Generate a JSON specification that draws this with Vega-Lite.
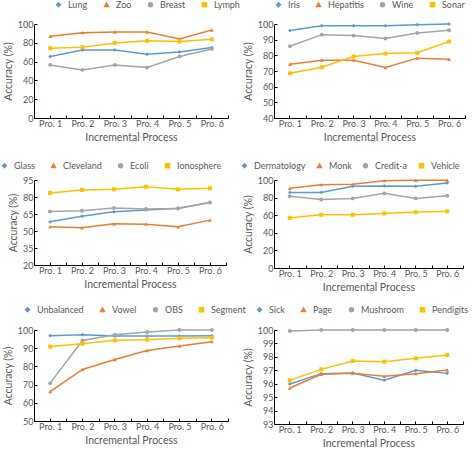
{
  "$schema": "https://vega.github.io/schema/vega-lite/v6.json",
  "padding": 0,
  "background": "white",
  "data": {
    "values": [
      {"p": 1, "s": "Lung", "x": "Pro. 1", "y": 65.4},
      {"p": 1, "s": "Lung", "x": "Pro. 2", "y": 72.4},
      {"p": 1, "s": "Lung", "x": "Pro. 3", "y": 72.4},
      {"p": 1, "s": "Lung", "x": "Pro. 4", "y": 67.8},
      {"p": 1, "s": "Lung", "x": "Pro. 5", "y": 70.3},
      {"p": 1, "s": "Lung", "x": "Pro. 6", "y": 74.9},
      {"p": 1, "s": "Zoo", "x": "Pro. 1", "y": 86.9},
      {"p": 1, "s": "Zoo", "x": "Pro. 2", "y": 90.8},
      {"p": 1, "s": "Zoo", "x": "Pro. 3", "y": 91.5},
      {"p": 1, "s": "Zoo", "x": "Pro. 4", "y": 91.5},
      {"p": 1, "s": "Zoo", "x": "Pro. 5", "y": 84.1},
      {"p": 1, "s": "Zoo", "x": "Pro. 6", "y": 93.6},
      {"p": 1, "s": "Breast", "x": "Pro. 1", "y": 56.5},
      {"p": 1, "s": "Breast", "x": "Pro. 2", "y": 51.2},
      {"p": 1, "s": "Breast", "x": "Pro. 3", "y": 56.5},
      {"p": 1, "s": "Breast", "x": "Pro. 4", "y": 53.7},
      {"p": 1, "s": "Breast", "x": "Pro. 5", "y": 65.4},
      {"p": 1, "s": "Breast", "x": "Pro. 6", "y": 73.5},
      {"p": 1, "s": "Lymph", "x": "Pro. 1", "y": 74.2},
      {"p": 1, "s": "Lymph", "x": "Pro. 2", "y": 75.3},
      {"p": 1, "s": "Lymph", "x": "Pro. 3", "y": 79.9},
      {"p": 1, "s": "Lymph", "x": "Pro. 4", "y": 82.3},
      {"p": 1, "s": "Lymph", "x": "Pro. 5", "y": 81.3},
      {"p": 1, "s": "Lymph", "x": "Pro. 6", "y": 83.7},
      {"p": 2, "s": "Iris", "x": "Pro. 1", "y": 95.8},
      {"p": 2, "s": "Iris", "x": "Pro. 2", "y": 98.9},
      {"p": 2, "s": "Iris", "x": "Pro. 3", "y": 98.9},
      {"p": 2, "s": "Iris", "x": "Pro. 4", "y": 98.9},
      {"p": 2, "s": "Iris", "x": "Pro. 5", "y": 99.6},
      {"p": 2, "s": "Iris", "x": "Pro. 6", "y": 100},
      {"p": 2, "s": "Hepatitis", "x": "Pro. 1", "y": 74.3},
      {"p": 2, "s": "Hepatitis", "x": "Pro. 2", "y": 76.9},
      {"p": 2, "s": "Hepatitis", "x": "Pro. 3", "y": 76.9},
      {"p": 2, "s": "Hepatitis", "x": "Pro. 4", "y": 72.2},
      {"p": 2, "s": "Hepatitis", "x": "Pro. 5", "y": 78.2},
      {"p": 2, "s": "Hepatitis", "x": "Pro. 6", "y": 77.5},
      {"p": 2, "s": "Wine", "x": "Pro. 1", "y": 85.8},
      {"p": 2, "s": "Wine", "x": "Pro. 2", "y": 93.2},
      {"p": 2, "s": "Wine", "x": "Pro. 3", "y": 92.6},
      {"p": 2, "s": "Wine", "x": "Pro. 4", "y": 90.7},
      {"p": 2, "s": "Wine", "x": "Pro. 5", "y": 94.3},
      {"p": 2, "s": "Wine", "x": "Pro. 6", "y": 96.0},
      {"p": 2, "s": "Sonar", "x": "Pro. 1", "y": 68.6},
      {"p": 2, "s": "Sonar", "x": "Pro. 2", "y": 72.4},
      {"p": 2, "s": "Sonar", "x": "Pro. 3", "y": 79.2},
      {"p": 2, "s": "Sonar", "x": "Pro. 4", "y": 81.1},
      {"p": 2, "s": "Sonar", "x": "Pro. 5", "y": 81.6},
      {"p": 2, "s": "Sonar", "x": "Pro. 6", "y": 88.8},
      {"p": 3, "s": "Glass", "x": "Pro. 1", "y": 58.1},
      {"p": 3, "s": "Glass", "x": "Pro. 2", "y": 63.1},
      {"p": 3, "s": "Glass", "x": "Pro. 3", "y": 66.9},
      {"p": 3, "s": "Glass", "x": "Pro. 4", "y": 68.6},
      {"p": 3, "s": "Glass", "x": "Pro. 5", "y": 70.1},
      {"p": 3, "s": "Glass", "x": "Pro. 6", "y": 75.1},
      {"p": 3, "s": "Cleveland", "x": "Pro. 1", "y": 53.7},
      {"p": 3, "s": "Cleveland", "x": "Pro. 2", "y": 52.8},
      {"p": 3, "s": "Cleveland", "x": "Pro. 3", "y": 56.3},
      {"p": 3, "s": "Cleveland", "x": "Pro. 4", "y": 56.0},
      {"p": 3, "s": "Cleveland", "x": "Pro. 5", "y": 53.7},
      {"p": 3, "s": "Cleveland", "x": "Pro. 6", "y": 59.6},
      {"p": 3, "s": "Ecoli", "x": "Pro. 1", "y": 67.2},
      {"p": 3, "s": "Ecoli", "x": "Pro. 2", "y": 67.8},
      {"p": 3, "s": "Ecoli", "x": "Pro. 3", "y": 70.4},
      {"p": 3, "s": "Ecoli", "x": "Pro. 4", "y": 69.5},
      {"p": 3, "s": "Ecoli", "x": "Pro. 5", "y": 69.8},
      {"p": 3, "s": "Ecoli", "x": "Pro. 6", "y": 75.1},
      {"p": 3, "s": "Ionosphere", "x": "Pro. 1", "y": 83.6},
      {"p": 3, "s": "Ionosphere", "x": "Pro. 2", "y": 86.2},
      {"p": 3, "s": "Ionosphere", "x": "Pro. 3", "y": 86.8},
      {"p": 3, "s": "Ionosphere", "x": "Pro. 4", "y": 89.1},
      {"p": 3, "s": "Ionosphere", "x": "Pro. 5", "y": 86.8},
      {"p": 3, "s": "Ionosphere", "x": "Pro. 6", "y": 87.7},
      {"p": 4, "s": "Dermatology", "x": "Pro. 1", "y": 85.9},
      {"p": 4, "s": "Dermatology", "x": "Pro. 2", "y": 85.9},
      {"p": 4, "s": "Dermatology", "x": "Pro. 3", "y": 92.8},
      {"p": 4, "s": "Dermatology", "x": "Pro. 4", "y": 93.2},
      {"p": 4, "s": "Dermatology", "x": "Pro. 5", "y": 92.8},
      {"p": 4, "s": "Dermatology", "x": "Pro. 6", "y": 96.6},
      {"p": 4, "s": "Monk", "x": "Pro. 1", "y": 90.5},
      {"p": 4, "s": "Monk", "x": "Pro. 2", "y": 94.7},
      {"p": 4, "s": "Monk", "x": "Pro. 3", "y": 95.1},
      {"p": 4, "s": "Monk", "x": "Pro. 4", "y": 99.2},
      {"p": 4, "s": "Monk", "x": "Pro. 5", "y": 99.6},
      {"p": 4, "s": "Monk", "x": "Pro. 6", "y": 99.6},
      {"p": 4, "s": "Credit-a", "x": "Pro. 1", "y": 81.4},
      {"p": 4, "s": "Credit-a", "x": "Pro. 2", "y": 77.9},
      {"p": 4, "s": "Credit-a", "x": "Pro. 3", "y": 79.1},
      {"p": 4, "s": "Credit-a", "x": "Pro. 4", "y": 84.8},
      {"p": 4, "s": "Credit-a", "x": "Pro. 5", "y": 79.1},
      {"p": 4, "s": "Credit-a", "x": "Pro. 6", "y": 82.1},
      {"p": 4, "s": "Vehicle", "x": "Pro. 1", "y": 57.0},
      {"p": 4, "s": "Vehicle", "x": "Pro. 2", "y": 60.5},
      {"p": 4, "s": "Vehicle", "x": "Pro. 3", "y": 60.5},
      {"p": 4, "s": "Vehicle", "x": "Pro. 4", "y": 62.0},
      {"p": 4, "s": "Vehicle", "x": "Pro. 5", "y": 63.5},
      {"p": 4, "s": "Vehicle", "x": "Pro. 6", "y": 64.3},
      {"p": 5, "s": "Unbalanced", "x": "Pro. 1", "y": 96.9},
      {"p": 5, "s": "Unbalanced", "x": "Pro. 2", "y": 97.4},
      {"p": 5, "s": "Unbalanced", "x": "Pro. 3", "y": 96.7},
      {"p": 5, "s": "Unbalanced", "x": "Pro. 4", "y": 96.7},
      {"p": 5, "s": "Unbalanced", "x": "Pro. 5", "y": 96.7},
      {"p": 5, "s": "Unbalanced", "x": "Pro. 6", "y": 96.9},
      {"p": 5, "s": "Vowel", "x": "Pro. 1", "y": 66.2},
      {"p": 5, "s": "Vowel", "x": "Pro. 2", "y": 78.3},
      {"p": 5, "s": "Vowel", "x": "Pro. 3", "y": 83.8},
      {"p": 5, "s": "Vowel", "x": "Pro. 4", "y": 88.7},
      {"p": 5, "s": "Vowel", "x": "Pro. 5", "y": 91.2},
      {"p": 5, "s": "Vowel", "x": "Pro. 6", "y": 93.6},
      {"p": 5, "s": "OBS", "x": "Pro. 1", "y": 70.8},
      {"p": 5, "s": "OBS", "x": "Pro. 2", "y": 94.2},
      {"p": 5, "s": "OBS", "x": "Pro. 3", "y": 97.4},
      {"p": 5, "s": "OBS", "x": "Pro. 4", "y": 98.9},
      {"p": 5, "s": "OBS", "x": "Pro. 5", "y": 100},
      {"p": 5, "s": "OBS", "x": "Pro. 6", "y": 100},
      {"p": 5, "s": "Segment", "x": "Pro. 1", "y": 90.9},
      {"p": 5, "s": "Segment", "x": "Pro. 2", "y": 92.5},
      {"p": 5, "s": "Segment", "x": "Pro. 3", "y": 94.3},
      {"p": 5, "s": "Segment", "x": "Pro. 4", "y": 94.7},
      {"p": 5, "s": "Segment", "x": "Pro. 5", "y": 95.4},
      {"p": 5, "s": "Segment", "x": "Pro. 6", "y": 95.8},
      {"p": 6, "s": "Sick", "x": "Pro. 1", "y": 95.98},
      {"p": 6, "s": "Sick", "x": "Pro. 2", "y": 96.75},
      {"p": 6, "s": "Sick", "x": "Pro. 3", "y": 96.8},
      {"p": 6, "s": "Sick", "x": "Pro. 4", "y": 96.26},
      {"p": 6, "s": "Sick", "x": "Pro. 5", "y": 97.0},
      {"p": 6, "s": "Sick", "x": "Pro. 6", "y": 96.77},
      {"p": 6, "s": "Page", "x": "Pro. 1", "y": 95.68},
      {"p": 6, "s": "Page", "x": "Pro. 2", "y": 96.7},
      {"p": 6, "s": "Page", "x": "Pro. 3", "y": 96.77},
      {"p": 6, "s": "Page", "x": "Pro. 4", "y": 96.55},
      {"p": 6, "s": "Page", "x": "Pro. 5", "y": 96.75},
      {"p": 6, "s": "Page", "x": "Pro. 6", "y": 97.02},
      {"p": 6, "s": "Mushroom", "x": "Pro. 1", "y": 99.93},
      {"p": 6, "s": "Mushroom", "x": "Pro. 2", "y": 100},
      {"p": 6, "s": "Mushroom", "x": "Pro. 3", "y": 100},
      {"p": 6, "s": "Mushroom", "x": "Pro. 4", "y": 100},
      {"p": 6, "s": "Mushroom", "x": "Pro. 5", "y": 100},
      {"p": 6, "s": "Mushroom", "x": "Pro. 6", "y": 100},
      {"p": 6, "s": "Pendigits", "x": "Pro. 1", "y": 96.25},
      {"p": 6, "s": "Pendigits", "x": "Pro. 2", "y": 97.07},
      {"p": 6, "s": "Pendigits", "x": "Pro. 3", "y": 97.69},
      {"p": 6, "s": "Pendigits", "x": "Pro. 4", "y": 97.64},
      {"p": 6, "s": "Pendigits", "x": "Pro. 5", "y": 97.89},
      {"p": 6, "s": "Pendigits", "x": "Pro. 6", "y": 98.14}
    ]
  },
  "columns": 2,
  "bounds": "flush",
  "spacing": {"row": 62, "column": 46},
  "resolve": {
    "scale": {"color": "independent", "shape": "independent", "size": "independent", "x": "independent", "y": "independent"},
    "legend": {"color": "independent", "shape": "independent", "size": "independent"}
  },
  "concat": [
    {
      "width": 194,
      "height": 94,
      "transform": [{"filter": "datum.p == 1"}],
      "encoding": {
        "x": {"field": "x", "type": "nominal", "sort": null, "bandPosition": 0.5, "scale": {"type": "band", "paddingInner": 0, "paddingOuter": 0}, "title": "Incremental Process", "axis": {"orient": "bottom", "tickBand": "extent"}},
        "y": {"field": "y", "type": "quantitative", "scale": {"domain": [0, 100]}, "axis": {"values": [0, 20, 40, 60, 80, 100]}, "title": "Accuracy (%)"},
        "color": {"field": "s", "type": "nominal", "scale": {"domain": ["Lung", "Zoo", "Breast", "Lymph"], "range": ["#5B9BD5", "#ED7D31", "#A5A5A5", "#FFC000"]}, "legend": {"orient": "none", "legendX": -3, "legendY": -24, "direction": "horizontal", "title": " ", "titleOrient": "left", "titlePadding": 23}}
      },
      "layer": [
        {"mark": {"type": "line", "strokeWidth": 1.5}},
        {
          "mark": {"type": "point", "filled": true, "opacity": 1},
          "encoding": {
            "x": {"field": "x", "type": "nominal", "sort": null, "bandPosition": 0.5, "scale": {"type": "band", "paddingInner": 0, "paddingOuter": 0}, "axis": {"orient": "bottom", "tickBand": "center", "labels": false, "domain": false, "title": null}},
            "shape": {"field": "s", "type": "nominal", "scale": {"domain": ["Lung", "Zoo", "Breast", "Lymph"], "range": ["diamond", "triangle-up", "circle", "square"]}, "legend": {"orient": "none", "legendX": -3, "legendY": -24, "direction": "horizontal", "title": " ", "titleOrient": "left", "titlePadding": 23}},
            "size": {"field": "s", "type": "nominal", "scale": {"domain": ["Lung", "Zoo", "Breast", "Lymph"], "range": [14, 16, 14, 24]}, "legend": null}
          }
        }
      ],
      "resolve": {"axis": {"x": "independent"}}
    },
    {
      "width": 191,
      "height": 94,
      "transform": [{"filter": "datum.p == 2"}],
      "encoding": {
        "x": {"field": "x", "type": "nominal", "sort": null, "bandPosition": 0.5, "scale": {"type": "band", "paddingInner": 0, "paddingOuter": 0}, "title": "Incremental Process", "axis": {"orient": "bottom", "tickBand": "extent"}},
        "y": {"field": "y", "type": "quantitative", "scale": {"domain": [40, 100]}, "axis": {"values": [40, 50, 60, 70, 80, 90, 100]}, "title": "Accuracy (%)"},
        "color": {"field": "s", "type": "nominal", "scale": {"domain": ["Iris", "Hepatitis", "Wine", "Sonar"], "range": ["#5B9BD5", "#ED7D31", "#A5A5A5", "#FFC000"]}, "legend": {"orient": "none", "legendX": -7, "legendY": -24, "direction": "horizontal", "title": " ", "titleOrient": "left", "titlePadding": 7}}
      },
      "layer": [
        {"mark": {"type": "line", "strokeWidth": 1.5}},
        {
          "mark": {"type": "point", "filled": true, "opacity": 1},
          "encoding": {
            "x": {"field": "x", "type": "nominal", "sort": null, "bandPosition": 0.5, "scale": {"type": "band", "paddingInner": 0, "paddingOuter": 0}, "axis": {"orient": "bottom", "tickBand": "center", "labels": false, "domain": false, "title": null}},
            "shape": {"field": "s", "type": "nominal", "scale": {"domain": ["Iris", "Hepatitis", "Wine", "Sonar"], "range": ["diamond", "triangle-up", "circle", "square"]}, "legend": {"orient": "none", "legendX": -7, "legendY": -24, "direction": "horizontal", "title": " ", "titleOrient": "left", "titlePadding": 7}},
            "size": {"field": "s", "type": "nominal", "scale": {"domain": ["Iris", "Hepatitis", "Wine", "Sonar"], "range": [14, 16, 14, 24]}, "legend": null}
          }
        }
      ],
      "resolve": {"axis": {"x": "independent"}}
    },
    {
      "width": 192,
      "height": 85,
      "transform": [{"filter": "datum.p == 3"}],
      "encoding": {
        "x": {"field": "x", "type": "nominal", "sort": null, "bandPosition": 0.5, "scale": {"type": "band", "paddingInner": 0, "paddingOuter": 0}, "title": "Incremental Process", "axis": {"orient": "bottom", "tickBand": "extent"}},
        "y": {"field": "y", "type": "quantitative", "scale": {"domain": [20, 95]}, "axis": {"values": [20, 35, 50, 65, 80, 95]}, "title": "Accuracy (%)"},
        "color": {"field": "s", "type": "nominal", "scale": {"domain": ["Glass", "Cleveland", "Ecoli", "Ionosphere"], "range": ["#5B9BD5", "#ED7D31", "#A5A5A5", "#FFC000"]}, "legend": {"orient": "none", "legendX": -34, "legendY": -19, "direction": "horizontal"}}
      },
      "layer": [
        {"mark": {"type": "line", "strokeWidth": 1.5}},
        {
          "mark": {"type": "point", "filled": true, "opacity": 1},
          "encoding": {
            "x": {"field": "x", "type": "nominal", "sort": null, "bandPosition": 0.5, "scale": {"type": "band", "paddingInner": 0, "paddingOuter": 0}, "axis": {"orient": "bottom", "tickBand": "center", "labels": false, "domain": false, "title": null}},
            "shape": {"field": "s", "type": "nominal", "scale": {"domain": ["Glass", "Cleveland", "Ecoli", "Ionosphere"], "range": ["diamond", "triangle-up", "circle", "square"]}, "legend": {"orient": "none", "legendX": -34, "legendY": -19, "direction": "horizontal"}},
            "size": {"field": "s", "type": "nominal", "scale": {"domain": ["Glass", "Cleveland", "Ecoli", "Ionosphere"], "range": [14, 16, 14, 24]}, "legend": null}
          }
        }
      ],
      "resolve": {"axis": {"x": "independent"}}
    },
    {
      "width": 189,
      "height": 88,
      "transform": [{"filter": "datum.p == 4"}],
      "encoding": {
        "x": {"field": "x", "type": "nominal", "sort": null, "bandPosition": 0.5, "scale": {"type": "band", "paddingInner": 0, "paddingOuter": 0}, "title": "Incremental Process", "axis": {"orient": "bottom", "tickBand": "extent"}},
        "y": {"field": "y", "type": "quantitative", "scale": {"domain": [0, 100]}, "axis": {"values": [0, 20, 40, 60, 80, 100]}, "title": "Accuracy (%)"},
        "color": {"field": "s", "type": "nominal", "scale": {"domain": ["Dermatology", "Monk", "Credit-a", "Vehicle"], "range": ["#5B9BD5", "#ED7D31", "#A5A5A5", "#FFC000"]}, "legend": {"orient": "none", "legendX": -34, "legendY": -19, "direction": "horizontal", "columnPadding": 8}}
      },
      "layer": [
        {"mark": {"type": "line", "strokeWidth": 1.5}},
        {
          "mark": {"type": "point", "filled": true, "opacity": 1},
          "encoding": {
            "x": {"field": "x", "type": "nominal", "sort": null, "bandPosition": 0.5, "scale": {"type": "band", "paddingInner": 0, "paddingOuter": 0}, "axis": {"orient": "bottom", "tickBand": "center", "labels": false, "domain": false, "title": null}},
            "shape": {"field": "s", "type": "nominal", "scale": {"domain": ["Dermatology", "Monk", "Credit-a", "Vehicle"], "range": ["diamond", "triangle-up", "circle", "square"]}, "legend": {"orient": "none", "legendX": -34, "legendY": -19, "direction": "horizontal", "columnPadding": 8}},
            "size": {"field": "s", "type": "nominal", "scale": {"domain": ["Dermatology", "Monk", "Credit-a", "Vehicle"], "range": [14, 16, 14, 24]}, "legend": null}
          }
        }
      ],
      "resolve": {"axis": {"x": "independent"}}
    },
    {
      "width": 194,
      "height": 91,
      "transform": [{"filter": "datum.p == 5"}],
      "encoding": {
        "x": {"field": "x", "type": "nominal", "sort": null, "bandPosition": 0.5, "scale": {"type": "band", "paddingInner": 0, "paddingOuter": 0}, "title": "Incremental Process", "axis": {"orient": "bottom", "tickBand": "extent"}},
        "y": {"field": "y", "type": "quantitative", "scale": {"domain": [50, 100]}, "axis": {"values": [50, 60, 70, 80, 90, 100]}, "title": "Accuracy (%)"},
        "color": {"field": "s", "type": "nominal", "scale": {"domain": ["Unbalanced", "Vowel", "OBS", "Segment"], "range": ["#5B9BD5", "#ED7D31", "#A5A5A5", "#FFC000"]}, "legend": {"orient": "none", "legendX": -19, "legendY": -25, "direction": "horizontal", "title": " ", "titleOrient": "left", "titlePadding": 8}}
      },
      "layer": [
        {"mark": {"type": "line", "strokeWidth": 1.5}},
        {
          "mark": {"type": "point", "filled": true, "opacity": 1},
          "encoding": {
            "x": {"field": "x", "type": "nominal", "sort": null, "bandPosition": 0.5, "scale": {"type": "band", "paddingInner": 0, "paddingOuter": 0}, "axis": {"orient": "bottom", "tickBand": "center", "labels": false, "domain": false, "title": null}},
            "shape": {"field": "s", "type": "nominal", "scale": {"domain": ["Unbalanced", "Vowel", "OBS", "Segment"], "range": ["diamond", "triangle-up", "circle", "square"]}, "legend": {"orient": "none", "legendX": -19, "legendY": -25, "direction": "horizontal", "title": " ", "titleOrient": "left", "titlePadding": 8}},
            "size": {"field": "s", "type": "nominal", "scale": {"domain": ["Unbalanced", "Vowel", "OBS", "Segment"], "range": [14, 16, 14, 24]}, "legend": null}
          }
        }
      ],
      "resolve": {"axis": {"x": "independent"}}
    },
    {
      "width": 189,
      "height": 94,
      "transform": [{"filter": "datum.p == 6"}],
      "encoding": {
        "x": {"field": "x", "type": "nominal", "sort": null, "bandPosition": 0.5, "scale": {"type": "band", "paddingInner": 0, "paddingOuter": 0}, "title": "Incremental Process", "axis": {"orient": "bottom", "tickBand": "extent"}},
        "y": {"field": "y", "type": "quantitative", "scale": {"domain": [93, 100]}, "axis": {"values": [93, 94, 95, 96, 97, 98, 99, 100]}, "title": "Accuracy (%)"},
        "color": {"field": "s", "type": "nominal", "scale": {"domain": ["Sick", "Page", "Mushroom", "Pendigits"], "range": ["#5B9BD5", "#ED7D31", "#A5A5A5", "#FFC000"]}, "legend": {"orient": "none", "legendX": -19, "legendY": -25, "direction": "horizontal"}}
      },
      "layer": [
        {"mark": {"type": "line", "strokeWidth": 1.5}},
        {
          "mark": {"type": "point", "filled": true, "opacity": 1},
          "encoding": {
            "x": {"field": "x", "type": "nominal", "sort": null, "bandPosition": 0.5, "scale": {"type": "band", "paddingInner": 0, "paddingOuter": 0}, "axis": {"orient": "bottom", "tickBand": "center", "labels": false, "domain": false, "title": null}},
            "shape": {"field": "s", "type": "nominal", "scale": {"domain": ["Sick", "Page", "Mushroom", "Pendigits"], "range": ["diamond", "triangle-up", "circle", "square"]}, "legend": {"orient": "none", "legendX": -19, "legendY": -25, "direction": "horizontal"}},
            "size": {"field": "s", "type": "nominal", "scale": {"domain": ["Sick", "Page", "Mushroom", "Pendigits"], "range": [14, 16, 14, 24]}, "legend": null}
          }
        }
      ],
      "resolve": {"axis": {"x": "independent"}}
    }
  ],
  "config": {
    "font": "Lato",
    "view": {"stroke": null},
    "axis": {
      "grid": false,
      "labelFont": "Lato",
      "labelFontSize": 9,
      "labelColor": "#595959",
      "titleFont": "Lato",
      "titleFontSize": 10.5,
      "titleFontWeight": "normal",
      "titleColor": "#595959",
      "domainColor": "#000000",
      "tickColor": "#000000",
      "tickSize": -3,
      "labelPadding": 4
    },
    "axisX": {"labelAngle": 0, "titlePadding": 4},
    "axisY": {"titlePadding": 4},
    "legend": {
      "title": null,
      "columns": 4,
      "symbolSize": 28,
      "labelFont": "Lato",
      "labelFontSize": 9,
      "labelColor": "#595959",
      "labelOffset": 5,
      "columnPadding": 13,
      "padding": 0,
      "titleFontSize": 9
    }
  }
}
